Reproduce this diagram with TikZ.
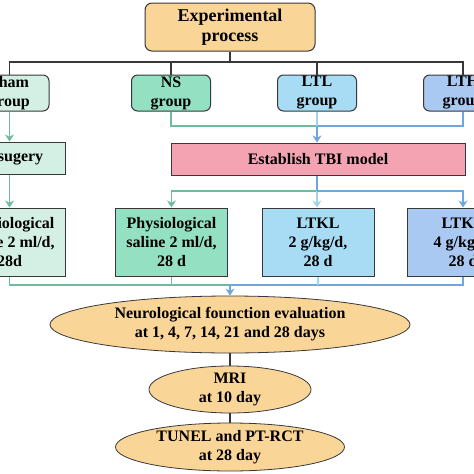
\documentclass[tikz,border=0pt]{standalone}
\usepackage{fontspec}
\setmainfont{Liberation Serif}
\usetikzlibrary{arrows.meta,shapes.geometric}
\definecolor{arancio}{HTML}{FAD598}
\definecolor{verdino}{HTML}{D4F0E4}
\definecolor{verde}{HTML}{93E0C2}
\definecolor{azzurro}{HTML}{A8DCF4}
\definecolor{blu}{HTML}{A9C8F2}
\definecolor{rosa}{HTML}{F4A3B3}
\definecolor{lineaverde}{HTML}{6DBC9C}
\definecolor{lineaazzurra}{HTML}{A3D3EC}
\definecolor{lineablu}{HTML}{6FA6DE}
\definecolor{bordo}{HTML}{383838}
\tikzset{
>={Stealth[length=7pt,width=9pt]},
box node/.style={draw=bordo,line width=1pt,align=center,inner sep=0pt,font=\bfseries\fontsize{16}{19}\selectfont},
group node/.style={box node,rounded corners=6pt,minimum width=79pt,minimum height=36pt},
dose node/.style={box node,minimum width=112pt,minimum height=68pt},
ellisse/.style={ellipse,draw=bordo,line width=0.8pt,fill=arancio,align=center,inner sep=0pt,font=\bfseries\fontsize{16}{19}\selectfont},
linea/.style={line width=1.5pt},
freccia/.style={->,line width=1.5pt}}

\begin{document}
\begin{tikzpicture}[x=1pt,y=-1pt]
\useasboundingbox (0,0) rectangle (474,474);
\clip (0,0) rectangle (474,474);

\node[box node,fill=arancio,rounded corners=7pt,minimum width=170pt,minimum height=48pt,font=\bfseries\fontsize{18}{20}\selectfont] (top) at (230,27) {Experimental\\process};
\node[group node,fill=verdino] (sham) at (9.5,93) {Sham\\group};
\node[group node,fill=verde] (ns) at (171,93) {NS\\group};
\node[group node,fill=azzurro] (ltl) at (317,93) {LTL\\group};
\node[group node,fill=blu] (lth) at (463,93) {LTH\\group};
\node[box node,fill=verdino,minimum width=132pt,minimum height=32pt] (sugery) at (-1,158) {Sham sugery};
\node[box node,fill=rosa,minimum width=294pt,minimum height=32pt] (tbi) at (318,159) {Establish TBI model};
\node[dose node,fill=verdino] (ps1) at (9.5,242) {Physiological\\saline 2 ml/d,\\28d};
\node[dose node,fill=verde] (ps2) at (171.5,242) {Physiological\\saline 2 ml/d,\\28 d};
\node[dose node,fill=azzurro] (lk2) at (318,242) {LTKL\\2 g/kg/d,\\28 d};
\node[dose node,fill=blu] (lk4) at (463,242) {LTKL\\4 g/kg/d,\\28 d};
\node[ellisse,minimum width=360pt,minimum height=57pt] (neuro) at (230,324.5) {Neurological founction evaluation\\at 1, 4, 7, 14, 21 and 28 days};
\node[ellisse,minimum width=162pt,minimum height=47pt] (mri) at (230,389.5) {MRI\\at 10 day};
\node[ellisse,minimum width=229pt,minimum height=48pt] (tunel) at (230,447) {TUNEL and PT-RCT\\at 28 day};

\coordinate (j1) at (230,62);
\coordinate (j2) at (317,126);
\coordinate (j3) at (317,191);
\coordinate (j4) at (230,285);

% dal processo ai gruppi
\draw[linea,bordo] (top.south) -- (j1);
\draw[linea,bordo] (sham.north) -- (sham.north |- j1) -- (lth.north |- j1) -- (lth.north);
\draw[linea,bordo] (ns.north) -- (ns.north |- j1);
\draw[linea,bordo] (ltl.north) -- (ltl.north |- j1);

% gruppo sham
\draw[freccia,lineaverde] (sham.south) -- (sham.south |- sugery.north);
\draw[freccia,lineaverde] (sugery.south -| sham) -- (ps1.north);

% modello TBI
\draw[linea,lineaverde] (ns.south) |- (j2);
\draw[linea,lineablu] (j2) -| (lth.south);
\draw[linea,lineaazzurra] (ltl.south) -- (j2);
\draw[freccia,lineablu] (j2) -- (tbi.north -| j2);
\draw[linea,lineablu] (tbi.south -| j3) -- (j3);
\draw[freccia,lineaverde] (j3) -| (ps2.north);
\draw[freccia,lineaazzurra] (j3) -- (lk2.north -| j3);
\draw[freccia,lineablu] (j3) -| (lk4.north);

% valutazioni
\draw[linea,lineaverde] (ps1.south) |- (j4);
\draw[linea,lineaverde] (ps2.south) -- (ps2.south |- j4);
\draw[linea,lineablu] (lk4.south) |- (j4);
\draw[linea,lineaazzurra] (lk2.south) -- (lk2.south |- j4);
\draw[freccia,lineablu] (j4) -- (neuro.north);
\draw[linea,bordo] (neuro.south) -- (mri.north);
\draw[linea,bordo] (mri.south) -- (tunel.north);

\end{tikzpicture}
\end{document}
